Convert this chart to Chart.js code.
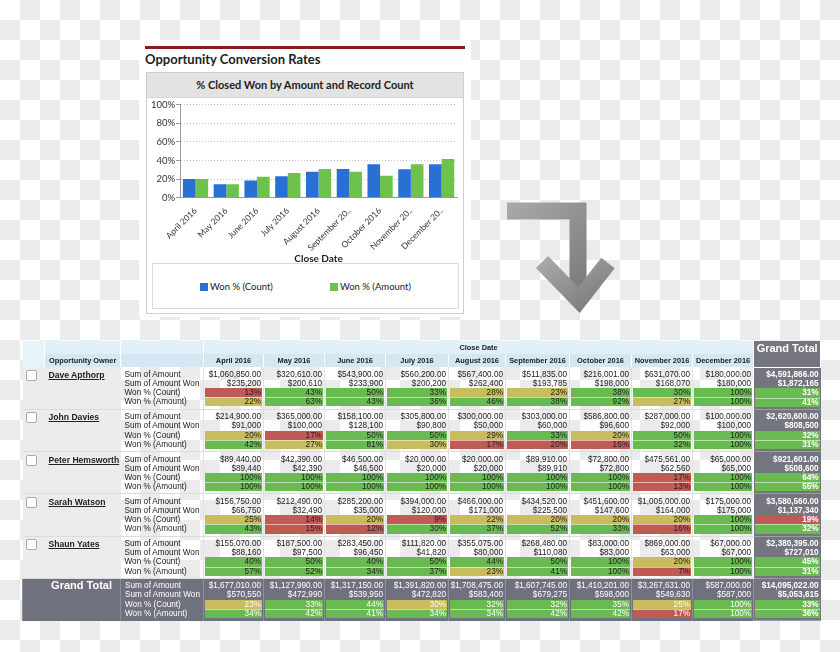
<!DOCTYPE html>
<html>
<head>
<meta charset="utf-8">
<script src="https://cdn.jsdelivr.net/npm/chart.js@4.4.1/dist/chart.umd.min.js"></script>
<style>
body { margin:0; width:840px; height:652px; overflow:hidden; position:relative;
  background: repeating-conic-gradient(#ebebeb 0 25%, #fff 0 50%) 0 0/40px 40px; font-family: Lato, sans-serif; }
#panel { position:absolute; left:139px; top:40px; width:332px; height:277px; background:#fff; }
#redline { position:absolute; left:145px; top:46px; width:320px; height:3px; background:#8a1a1c; }
#heading { position:absolute; left:145px; top:51px; font: bold 13px Lato; color:#222; }
#box { position:absolute; left:146px; top:72px; width:316px; height:240px; border:1px solid #cfcfcf; background:#fff; }
#boxhead { height:24px; background:#e3e3e3; font: bold 11px Lato; text-align:center; line-height:24px; color:#222; border-bottom:1px solid #d6d6d6; }
#chartwrap { position:absolute; left:0; top:25px; width:316px; height:167px; }
#legend { position:absolute; left:5px; top:190px; width:305px; height:44px; border:1px solid #dadada; background:#fff;
  display:flex; justify-content:center; align-items:center; gap:57px; font: 9.5px Lato; color:#222; }
#legend span.sw { display:inline-block; width:8px; height:8px; margin-right:2px; vertical-align:-1px; }
#arrow { position:absolute; left:0; top:0; }
table { position:absolute; left:22px; top:341px; border-collapse:collapse; table-layout:fixed; width:798px;
  font-family:"Liberation Sans", Arial, sans-serif; font-size:8.2px; color:#222; }
td { padding:0; vertical-align:top; overflow:hidden; }
tr.h1 td, tr.h2 td { height:13px; border-right:1px solid #fff; font-weight:bold; font-size:7.4px; text-align:center;
  vertical-align:middle; white-space:nowrap; }
tr.h1 td { background:#dff0f8; }
tr.h2 td { background:#d3e8f2; }
tr.h1 td.cb, tr.h2 td.cb { background:#e6f3f9; }
td.oo { text-align:left !important; padding-left:4px !important; }
td.gth { background:#74757f !important; color:#fff; font-size:11px !important; vertical-align:top !important; padding-top:1px; border-bottom:1px solid #fff; }
tr.grp td { border-bottom:1px solid #dcdcdc; padding:2.5px 0 2px; }
td.cb { background:#ececec; }
td.own { background:#ececec; padding-left:4px !important; font-weight:bold; font-size:8.6px; white-space:nowrap; }
td.own u { text-decoration-thickness:1px; }
.chk { width:9px; height:9px; margin:0 0 0 3px; background:#fff; border:1px solid #aaa; border-radius:2px; }
td.lab .ln { text-align:left; padding-left:4px; }
td.mv { border-left:1px solid #e2e2e2; }
.ln { height:9.2px; line-height:9.2px; text-align:right; padding-right:2px; white-space:nowrap; }
.pc { margin:0 1px; padding-right:1px; }
.pa { box-shadow: inset 0 1px 0 rgba(255,255,255,0.55); }
td.gt { background:#74757f !important; color:#fff; font-weight:bold; border-left:1px solid #fff; border-bottom:1px solid #9b9ca6 !important; }
tr.tot td { background:#70717e; color:#fff; padding:2.5px 0 2px; border-left:1px solid #8e8f9a; }
tr.tot td.totlab { font-weight:bold; font-size:11px; text-align:right; padding-right:8px; padding-top:0; }
</style>
</head>
<body>
<div id="panel"></div>
<div id="redline"></div>
<div id="heading">Opportunity Conversion Rates</div>
<div id="box">
  <div id="boxhead">% Closed Won by Amount and Record Count</div>
  <div id="chartwrap"><canvas id="conv"></canvas></div>
  <div id="legend"></div>
</div>
<svg id="arrow" width="840" height="652">
  <defs>
    <linearGradient id="ag" x1="0" y1="0" x2="1" y2="1">
      <stop offset="0" stop-color="#a8a8a8"/>
      <stop offset="1" stop-color="#7c7c7c"/>
    </linearGradient>
  </defs>
  <path d="M507 211 H578 V292" fill="none" stroke="url(#ag)" stroke-width="17" stroke-linejoin="miter"/>
  <path d="M542 262 L579 300 L608 263" fill="none" stroke="url(#ag)" stroke-width="17" stroke-linejoin="miter" stroke-miterlimit="6"/>
</svg>
<table id="tbl"></table>
<script>
// chart data
const closeDates = ['April 2016', 'May 2016', 'June 2016', 'July 2016', 'August 2016', 'September 2016', 'October 2016', 'November 2016', 'December 2016'];
const xTickLabels = ['April 2016', 'May 2016', 'June 2016', 'July 2016', 'August 2016', 'September 20..', 'October 2016', 'November 20..', 'December 20..'];
const wonCountPct = [20, 14.5, 18.5, 23, 28, 31, 36, 30.5, 36];
const wonAmountPct = [20, 14.5, 22.5, 26.5, 31, 28, 23.5, 36, 41.5];

// table data
const owners = ['Dave Apthorp', 'John Davies', 'Peter Hemsworth', 'Sarah Watson', 'Shaun Yates'];
const sumOfAmount = [
    [1060850, 320610, 543900, 560200, 567400, 511835, 216001, 631070, 180000],
    [214900, 365000, 158100, 305800, 300000, 303000, 586800, 287000, 100000],
    [89440, 42390, 46500, 20000, 20000, 89910, 72800, 475561, 65000],
    [156750, 212490, 285200, 394000, 466000, 434520, 451600, 1005000, 175000],
    [155070, 187500, 283450, 111820, 355075, 268480, 83000, 869000, 67000]
];
const sumOfAmountWon = [
    [235200, 200610, 233900, 200200, 262400, 193785, 198000, 168070, 180000],
    [91000, 100000, 128100, 90800, 50000, 60000, 96600, 92000, 100000],
    [89440, 42390, 46500, 20000, 20000, 89910, 72800, 62560, 65000],
    [66750, 32490, 35000, 120000, 171000, 225500, 147600, 164000, 175000],
    [88160, 97500, 96450, 41820, 80000, 110080, 83000, 63000, 67000]
];
const wonPctCount = [
    [13, 43, 50, 33, 28, 23, 38, 30, 100],
    [20, 17, 50, 50, 29, 33, 20, 50, 100],
    [100, 100, 100, 100, 100, 100, 100, 17, 100],
    [25, 14, 20, 9, 22, 20, 20, 20, 100],
    [40, 50, 40, 50, 44, 50, 100, 20, 100]
];
const ownerTotalAmount = [4591866, 2620600, 921601, 3580560, 2380395];
const ownerTotalWon = [1872165, 808500, 508600, 1137340, 727010];
const ownerTotalCount = [31, 32, 64, 19, 45];
const grandAmount = [1677010, 1127990, 1317150, 1391820, 1708475, 1607745, 1410201, 3267631, 587000];
const grandWon = [570550, 472990, 539950, 472820, 583400, 679275, 598000, 549630, 587000];
const grandCount = [23, 33, 44, 29.6, 32, 32, 35, 25, 100];
const grandTotal = { amount: 14095022, won: 5053615, count: 33 };

const countColor = '#2a6fd3';
const amountColor = '#6dc24d';

// Initialize chart
const chart = new Chart(document.getElementById('conv'), {
    type: 'bar',
    data: {
        labels: closeDates,
        datasets: [
            { label: 'Won % (Count)', data: wonCountPct, backgroundColor: countColor, categoryPercentage: 0.82, barPercentage: 1.0 },
            { label: 'Won % (Amount)', data: wonAmountPct, backgroundColor: amountColor, categoryPercentage: 0.82, barPercentage: 1.0 }
        ]
    },
    options: {
        responsive: true,
        maintainAspectRatio: false,
        animation: false,
        layout: { padding: { left: 3, right: 6, top: 2, bottom: 0 } },
        plugins: { legend: { display: false }, tooltip: { enabled: false } },
        scales: {
            x: {
                grid: { display: false },
                border: { color: '#999' },
                ticks: {
                    autoSkip: false, maxRotation: 45, minRotation: 45, padding: 0,
                    color: '#333', font: { family: 'Lato', size: 8.5 },
                    callback: (v, i) => xTickLabels[i]
                },
                title: { display: true, text: 'Close Date', color: '#222', font: { family: 'Lato', size: 10, weight: 'bold' }, padding: { top: 0, bottom: 0 } }
            },
            y: {
                min: 0, max: 100,
                ticks: {
                    stepSize: 10, padding: 1, color: '#333', font: { family: 'Lato', size: 9.5 },
                    callback: v => v % 20 === 0 ? v + '%' : ''
                },
                grid: {
                    color: ctx => (ctx.tick && ctx.tick.value % 20 === 0 && ctx.tick.value > 0) ? '#c4c4c4' : 'rgba(0,0,0,0)',
                    tickColor: '#999', tickLength: 4
                },
                border: { color: '#999', dash: [1, 2] }
            }
        }
    }
});

// HTML legend
document.getElementById('legend').innerHTML = chart.data.datasets.map(ds =>
    `<div><span class="sw" style="background:${ds.backgroundColor}"></span>${ds.label}</div>`).join('');

// Build table
const fmtMoney = (v, dec) => '$' + v.toLocaleString('en-US', { minimumFractionDigits: dec, maximumFractionDigits: dec });
const pctColor = v => v < 20 ? '#c05a55' : (v < 30 ? '#c8bc5c' : '#6aba52');

function valueCell(amt, won, cnt, cls) {
    const amtPct = won / amt * 100;
    return `<td class="${cls}"><div class="ln">${fmtMoney(amt, 2)}</div><div class="ln">${fmtMoney(won, 0)}</div>` +
        `<div class="ln pc" style="background:${pctColor(cnt)}">${Math.round(cnt)}%</div>` +
        `<div class="ln pc pa" style="background:${pctColor(amtPct)}">${Math.round(amtPct)}%</div></td>`;
}
const labelCell = '<td class="lab"><div class="ln">Sum of Amount</div><div class="ln">Sum of Amount Won</div>' +
    '<div class="ln">Won % (Count)</div><div class="ln">Won % (Amount)</div></td>';

const colWidths = [22, 76, 83, 60, 61, 61, 63, 57, 64, 62, 61, 61, 67];
let html = '<colgroup>' + colWidths.map(w => `<col style="width:${w}px">`).join('') + '</colgroup>';
html += '<tr class="h1"><td class="cb"></td><td></td><td></td><td colspan="9">Close Date</td><td rowspan="2" class="gth">Grand Total</td></tr>';
html += '<tr class="h2"><td class="cb"></td><td class="oo">Opportunity Owner</td><td></td>' +
    closeDates.map(m => `<td>${m}</td>`).join('') + '</tr>';
owners.forEach((name, r) => {
    html += `<tr class="grp"><td class="cb"><div class="chk"></div></td><td class="own"><u>${name}</u></td>${labelCell}`;
    closeDates.forEach((m, c) => { html += valueCell(sumOfAmount[r][c], sumOfAmountWon[r][c], wonPctCount[r][c], 'mv'); });
    html += valueCell(ownerTotalAmount[r], ownerTotalWon[r], ownerTotalCount[r], 'gt') + '</tr>';
});
html += `<tr class="tot"><td colspan="2" class="totlab">Grand Total</td>${labelCell}`;
closeDates.forEach((m, c) => { html += valueCell(grandAmount[c], grandWon[c], grandCount[c], 'mv'); });
html += valueCell(grandTotal.amount, grandTotal.won, grandTotal.count, 'gt') + '</tr>';
document.getElementById('tbl').innerHTML = html;
</script>
</body>
</html>
